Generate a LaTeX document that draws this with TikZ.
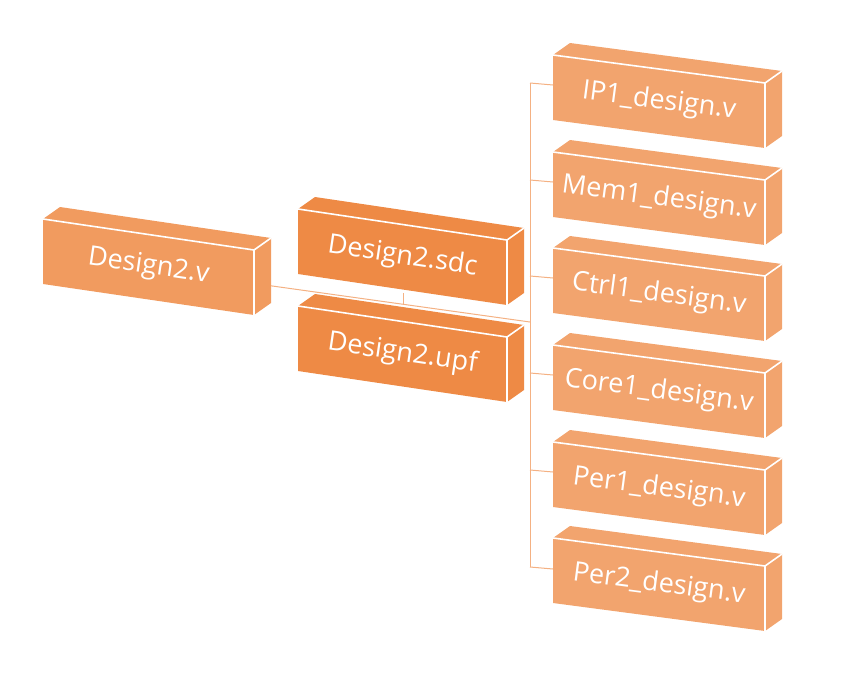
\documentclass[tikz,border=0pt]{standalone}
\usepackage{fontspec}
\setmainfont{Open Sans}
\begin{document}
\begin{tikzpicture}[x=1pt,y=-1pt,
  face/.style={line width=1.6pt,draw=white,line join=miter},
  lbl/.style={text=white,font=\fontsize{27}{30}\selectfont,inner sep=0pt},
  conn/.style={draw=lineC,line width=1pt}]
\definecolor{cA}{HTML}{F19B5F}
\definecolor{cB}{HTML}{EE8A45}
\definecolor{cC}{HTML}{F2A46E}
\definecolor{lineC}{HTML}{F4B183}
\useasboundingbox (0,0) rectangle (849,673);
% #1 x, #2 y, #3 w, #4 h, #5 slope drop, #6 colour, #7 text, #8 name
\newcommand\dbox[8]{%
  \fill[#6] (#1,#2) -- (#1+#3,#2+#5) -- (#1+#3,#2+#5+#4) -- (#1,#2+#4) -- cycle;
  \fill[#6] (#1,#2) -- (#1+17,#2-12) -- (#1+#3+17,#2+#5-12) -- (#1+#3,#2+#5) -- cycle;
  \fill[#6] (#1+#3,#2+#5) -- (#1+#3+17,#2+#5-12) -- (#1+#3+17,#2+#5+#4-12) -- (#1+#3,#2+#5+#4) -- cycle;
  \draw[face] (#1,#2) -- (#1+#3,#2+#5) -- (#1+#3,#2+#5+#4);
  \draw[face] (#1+#3,#2+#5) -- (#1+#3+17,#2+#5-12);
  \pgfmathsetmacro\ang{-atan(#5/#3)}
  \node[lbl,rotate=\ang] (#8) at (#1+#3/2,#2+#5/2+#4/2) {#7};
}
% connectors
\coordinate (v1) at (530,83);
\coordinate (v2) at (530,567);
\coordinate (s1) at (258,284);
\coordinate (s2) at (530,322);
\coordinate (t1) at (403,293);
\coordinate (t2) at (403,305);
\draw[conn] (v1) -- (v2);
\draw[conn] (s1) -- (s2);
\draw[conn] (t1) -- (t2);
\foreach \yy in {83,180,276,373,470,567}{
  \coordinate (a\yy) at (530,\yy);
  \coordinate (b\yy) at (553,\yy+2);
  \draw[conn] (a\yy) -- (b\yy);
}
% boxes
\dbox{43}{219}{211}{65}{31}{cA}{Design2.v}{dv}
\dbox{298}{209}{209}{65}{31}{cB}{Design2.sdc}{sdc}
\dbox{298}{306}{209}{65}{31}{cB}{Design2.upf}{upf}
\dbox{553}{55}{212}{65}{28}{cC}{IP1\_design.v}{ip}
\dbox{553}{152}{212}{65}{28}{cC}{Mem1\_design.v}{mem}
\dbox{553}{248}{212}{65}{28}{cC}{Ctrl1\_design.v}{ctrl}
\dbox{553}{345}{212}{65}{28}{cC}{Core1\_design.v}{core}
\dbox{553}{442}{212}{65}{28}{cC}{Per1\_design.v}{per1}
\dbox{553}{538}{212}{65}{28}{cC}{Per2\_design.v}{per2}
\end{tikzpicture}
\end{document}
